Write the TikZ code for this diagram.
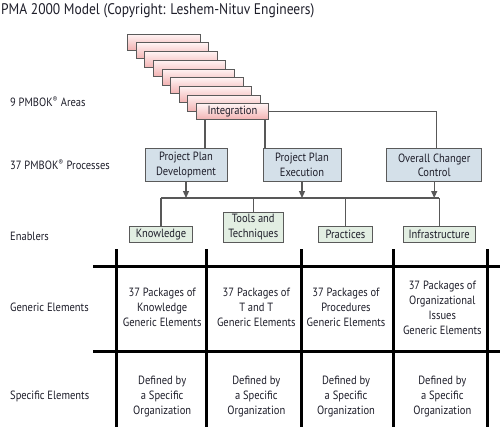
\documentclass[tikz,border=0pt]{standalone}
\usepackage{fontspec}
\setmainfont{PT Sans}[FakeStretch=0.88]
\usetikzlibrary{arrows.meta}
\definecolor{pinkB}{HTML}{F2B2B2}
\definecolor{pinkT}{HTML}{FFF3F3}
\definecolor{procB}{HTML}{D4E0E9}
\definecolor{enab}{HTML}{E2EEE2}
\definecolor{edge}{HTML}{5A5A5A}
\definecolor{lineC}{HTML}{585858}
\definecolor{ink}{HTML}{1E1E2A}
\tikzset{
  basefont/.style={font=\fontsize{12}{15}\selectfont},
  areabox/.style={draw=edge, line width=1bp, top color=pinkT, bottom color=pinkB,
    minimum width=72.5bp, minimum height=16bp, inner sep=0pt, anchor=north west,
    text=ink, basefont},
  procbox/.style={draw=edge, line width=1bp, fill=procB, minimum height=33bp,
    inner sep=0pt, align=center, text=ink, basefont},
  enbox/.style={draw=edge, line width=1bp, fill=enab, minimum height=16bp,
    inner sep=0pt, align=center, text=ink, basefont},
  conn/.style={draw=lineC, line width=1.2bp},
  arr/.style={conn, fill=lineC, -{Triangle[width=6bp,length=7bp]}},
  gridline/.style={line width=3bp, draw=black},
  lab/.style={anchor=west, inner sep=0pt, text=ink, basefont},
  cell/.style={align=center, inner sep=0pt, text=ink, basefont}
}
\begin{document}
\begin{tikzpicture}[x=1bp,y=-1bp]
\useasboundingbox[fill=white] (0,0) rectangle (500,427);
% title
\node[anchor=west, inner sep=0pt, text=ink, font=\fontsize{15.4}{17}\selectfont] (title) at (1,11) {PMA 2000 Model (Copyright: Leshem-Nituv Engineers)};
% left labels
\node[lab] (lAreas) at (10,101.7) {9 PMBOK\textsuperscript{®} Areas};
\node[lab] (lProc) at (10,165) {37 PMBOK\textsuperscript{®} Processes};
\node[lab] (lEnab) at (10,236) {Enablers};
\node[lab] (lGen) at (10,307.3) {Generic Elements};
\node[lab] (lSpec) at (10,396.7) {Specific Elements};
% processes
\node[procbox, minimum width=82bp] (ppd) at (186,165) {Project Plan\\Development};
\node[procbox, minimum width=78bp] (ppe) at (302,165.3) {Project Plan\\Execution};
\node[procbox, minimum width=95bp] (occ) at (434.2,165.3) {Overall Changer\\Control};
% enablers
\node[enbox, minimum width=63.4bp] (know) at (161,234.3) {Knowledge};
\node[enbox, minimum width=60bp, minimum height=30bp] (tt) at (253.3,227) {Tools and\\Techniques};
\node[enbox, minimum width=54.4bp] (prac) at (345.5,234.5) {Practices};
\node[enbox, minimum width=71.7bp] (infra) at (439.2,234.5) {Infrastructure};
% stack of area boxes
\foreach \i in {0,...,7}
  \node[areabox] (s\i) at ({127.3+8.55*\i},{33.7+8.7*\i}) {};
\node[areabox] (integ) at (195.7,103.3) {Integration};
% connectors
\coordinate (cA) at (205,0);
\coordinate (cB) at (265,0);
\coordinate (cC) at (436.7,0);
\coordinate (bus) at (0,198);
\draw[conn] (integ.east) -| (occ.north -| cC)
            (integ.south -| cA) -- (ppd.north -| cA)
            (integ.south -| cB) -- (ppe.north -| cB);
\foreach \n in {ppd,ppe,occ}
  \draw[arr] (\n.south) -- (\n.south |- bus);
\draw[conn] (know.north |- bus) -- (infra.north |- bus);
\foreach \n in {know,tt,prac,infra}
  \draw[conn] (\n.north |- bus) -- (\n.north);
% table grid
\draw[gridline] (93.3,266.7) -- (500,266.7);
\draw[gridline] (93.3,351.7) -- (500,351.7);
\foreach \x in {116,206,301.7,393.3,487.3}
  \draw[gridline] (\x,249) -- (\x,427);
% cells
\node[cell] (g1) at (162.2,307.5) {37 Packages of\\Knowledge\\Generic Elements};
\node[cell] (g2) at (256.3,307.5) {37 Packages of\\T and T\\Generic Elements};
\node[cell] (g3) at (346,307.5) {37 Packages of\\Procedures\\Generic Elements};
\node[cell] (g4) at (442.3,307.5) {37 Packages of\\Organizational\\Issues\\Generic Elements};
\node[cell] (p1) at (162.2,396.7) {Defined by\\a Specific\\Organization};
\node[cell] (p2) at (256.3,396.7) {Defined by\\a Specific\\Organization};
\node[cell] (p3) at (346,396.7) {Defined by\\a Specific\\Organization};
\node[cell] (p4) at (442.3,396.7) {Defined by\\a Specific\\Organization};
\end{tikzpicture}
\end{document}
